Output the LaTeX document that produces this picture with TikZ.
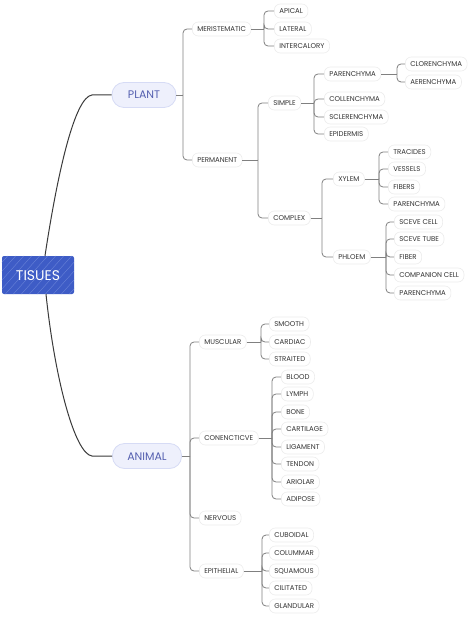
\documentclass[tikz,border=0pt]{standalone}
\usepackage{fontspec}
\newfontfamily\popfam{Poppins}
\definecolor{lineclr}{HTML}{808080}
\definecolor{rootline}{HTML}{3A3A3A}
\definecolor{pillborder}{HTML}{ECECEC}
\definecolor{leaftext}{HTML}{353535}
\definecolor{bigfill}{HTML}{EEF0FC}
\definecolor{bigborder}{HTML}{D6DBF5}
\definecolor{bigtext}{HTML}{5560B0}
\definecolor{rootblue}{HTML}{3E5CC6}
\definecolor{roothatch}{HTML}{7890DE}
\tikzset{
  leaf/.style={draw=pillborder, line width=0.6pt, fill=white, rounded corners=6pt,
    inner xsep=5pt, inner ysep=0pt, minimum height=14pt, text height=5pt, text depth=0pt,
    font=\popfam\fontsize{7pt}{8pt}\selectfont, text=leaftext, anchor=west},
  big/.style={draw=bigborder, line width=0.8pt, fill=bigfill, rounded corners=12pt,
    minimum height=25pt, inner xsep=0pt, text height=8pt, text depth=0pt,
    font=\popfam\fontsize{11pt}{12pt}\selectfont, text=bigtext},
  conn/.style={draw=lineclr, line width=0.8pt},
  rc/.style={conn, rounded corners=4pt},
  rootconn/.style={draw=rootline, line width=1pt}
}
\begin{document}
\begin{tikzpicture}[x=1pt,y=-1pt]
\useasboundingbox[fill=white] (0,0) rectangle (474,617);

% root
\node[fill=rootblue, rounded corners=2pt, minimum width=72pt, minimum height=38pt,
  inner sep=0pt] (root) at (38,275) {};
\begin{scope}
  \clip[rounded corners=2pt] (root.south west) rectangle (root.north east);
  \foreach \k in {-40,-32,...,80}
    \draw[roothatch, line width=0.35pt, opacity=0.8] (\k,300) -- ++(45,-50);
\end{scope}
\node[text=white, font=\popfam\fontsize{14pt}{15pt}\selectfont, inner sep=0pt,
  text height=10pt, text depth=0pt] (roottext) at (root.center) {TISUES};

% level 1
\node[big, minimum width=64pt] (plant) at (144,95) {PLANT};
\node[big, minimum width=69pt] (animal) at (147,456) {ANIMAL};

\coordinate (plantbend) at (92,95);
\coordinate (animalbend) at (92,456);
\draw[rootconn] ([xshift=7pt]root.north) .. controls (58,170) and (75,97) .. (plantbend) -- (plant.west);
\draw[rootconn] ([xshift=8pt]root.south) .. controls (55,380) and (75,454) .. (animalbend) -- (animal.west);

% ---------------- PLANT ----------------
\node[leaf] (mer) at (192,29) {MERISTEMATIC};
\node[leaf] (perm) at (192,160) {PERMANENT};
\coordinate (plantj) at (183,95);
\draw[conn] (plant.east) -- (plantj);
\foreach \c in {mer,perm} \draw[rc] (plantj) |- (\c.west);

\node[leaf] (apical) at (274,11) {APICAL};
\node[leaf] (lateral) at (274,29) {LATERAL};
\node[leaf] (inter) at (274,46) {INTERCALORY};
\coordinate (merj) at (264,29);
\draw[conn] (mer.east) -- (merj);
\foreach \c in {apical,lateral,inter} \draw[rc] (merj) |- (\c.west);

\node[leaf] (simple) at (268,103) {SIMPLE};
\node[leaf] (complex) at (268,218) {COMPLEX};
\coordinate (permj) at (258,160);
\draw[conn] (perm.east) -- (permj);
\foreach \c in {simple,complex} \draw[rc] (permj) |- (\c.west);

\node[leaf] (paren) at (324,74) {PARENCHYMA};
\node[leaf] (coll) at (324,99) {COLLENCHYMA};
\node[leaf] (scler) at (324,117) {SCLERENCHYMA};
\node[leaf] (epid) at (324,134) {EPIDERMIS};
\coordinate (simplej) at (314,103);
\draw[conn] (simple.east) -- (simplej);
\foreach \c in {paren,coll,scler,epid} \draw[rc] (simplej) |- (\c.west);

\node[leaf] (clor) at (405,64) {CLORENCHYMA};
\node[leaf] (aer) at (405,82) {AERENCHYMA};
\coordinate (parenj) at (397,74);
\draw[conn] (paren.east) -- (parenj);
\foreach \c in {clor,aer} \draw[rc] (parenj) |- (\c.west);

\node[leaf] (xylem) at (333,179) {XYLEM};
\node[leaf] (phloem) at (333,257) {PHLOEM};
\coordinate (complexj) at (322,218);
\draw[conn] (complex.east) -- (complexj);
\foreach \c in {xylem,phloem} \draw[rc] (complexj) |- (\c.west);

\node[leaf] (trac) at (388,152) {TRACIDES};
\node[leaf] (vess) at (388,169) {VESSELS};
\node[leaf] (fibers) at (388,187) {FIBERS};
\node[leaf] (xparen) at (388,204) {PARENCHYMA};
\coordinate (xylemj) at (379,179);
\draw[conn] (xylem.east) -- (xylemj);
\foreach \c in {trac,vess,fibers,xparen} \draw[rc] (xylemj) |- (\c.west);

\node[leaf] (scell) at (394,222) {SCEVE CELL};
\node[leaf] (stube) at (394,239) {SCEVE TUBE};
\node[leaf] (fiber) at (394,257) {FIBER};
\node[leaf] (comp) at (394,275) {COMPANION CELL};
\node[leaf] (pparen) at (394,293) {PARENCHYMA};
\coordinate (phloemj) at (386,257);
\draw[conn] (phloem.east) -- (phloemj);
\foreach \c in {scell,stube,fiber,comp,pparen} \draw[rc] (phloemj) |- (\c.west);

% ---------------- ANIMAL ----------------
\node[leaf] (musc) at (199,342) {MUSCULAR};
\node[leaf] (conn) at (199,438) {CONENCTICVE};
\node[leaf] (nerv) at (199,518) {NERVOUS};
\node[leaf] (epit) at (199,571) {EPITHELIAL};
\coordinate (animalj) at (190,456);
\draw[conn] (animal.east) -- (animalj);
\foreach \c in {musc,conn,nerv,epit} \draw[rc] (animalj) |- (\c.west);

\node[leaf] (smooth) at (269,324) {SMOOTH};
\node[leaf] (card) at (269,342) {CARDIAC};
\node[leaf] (strait) at (269,359) {STRAITED};
\coordinate (muscj) at (261,342);
\draw[conn] (musc.east) -- (muscj);
\foreach \c in {smooth,card,strait} \draw[rc] (muscj) |- (\c.west);

\node[leaf] (blood) at (281,377) {BLOOD};
\node[leaf] (lymph) at (281,394) {LYMPH};
\node[leaf] (bone) at (281,412) {BONE};
\node[leaf] (cart) at (281,429) {CARTILAGE};
\node[leaf] (liga) at (281,447) {LIGAMENT};
\node[leaf] (tend) at (281,464) {TENDON};
\node[leaf] (ario) at (281,482) {ARIOLAR};
\node[leaf] (adip) at (281,499) {ADIPOSE};
\coordinate (connj) at (272,438);
\draw[conn] (conn.east) -- (connj);
\foreach \c in {blood,lymph,bone,cart,liga,tend,ario,adip} \draw[rc] (connj) |- (\c.west);

\node[leaf] (cub) at (269,535) {CUBOIDAL};
\node[leaf] (colu) at (269,553) {COLUMMAR};
\node[leaf] (squa) at (269,571) {SQUAMOUS};
\node[leaf] (cili) at (269,588) {CILITATED};
\node[leaf] (glan) at (269,606) {GLANDULAR};
\coordinate (epitj) at (262,571);
\draw[conn] (epit.east) -- (epitj);
\foreach \c in {cub,colu,squa,cili,glan} \draw[rc] (epitj) |- (\c.west);
\end{tikzpicture}
\end{document}
